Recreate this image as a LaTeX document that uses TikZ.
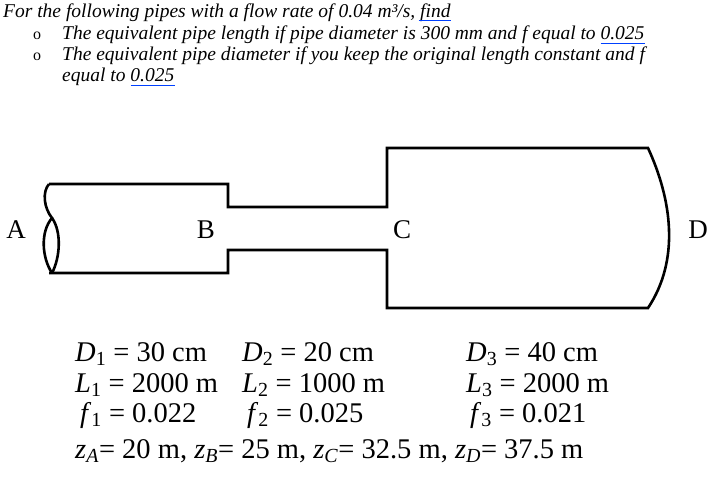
\documentclass[tikz,border=0pt]{standalone}
\usepackage{fontspec}
\setmainfont{Liberation Serif}
\newcommand{\vsub}[2]{\textit{#1}\textsubscript{#2}}
\begin{document}
\begin{tikzpicture}[x=1pt,y=-1pt,
  pipe/.style={line width=2.6pt,line join=miter},
  top/.style={anchor=base west,font=\fontsize{19.5}{20}\selectfont\itshape,inner sep=0},
  bul/.style={anchor=base west,font=\fontsize{16}{16}\selectfont,inner sep=0},
  eq/.style={anchor=base west,font=\fontsize{28.5}{30}\selectfont,inner sep=0},
  lab/.style={font=\fontsize{27}{27}\selectfont,inner sep=0},
  ul/.style={draw=blue!75!cyan,line width=1pt}]
\useasboundingbox (0,0) rectangle (712,490);
% header text
\node[top] (t1) at (3,17) {For the following pipes with a flow rate of 0.04 m³/s, find};
\node[bul] (b1) at (33,39) {o};
\node[top] (t2) at (62,39) {The equivalent pipe length if pipe diameter is 300 mm and f equal to 0.025};
\node[bul] (b2) at (33,60) {o};
\node[top] (t3) at (62,60) {The equivalent pipe diameter if you keep the original length constant and f};
\node[top] (t4) at (62,81) {equal to 0.025};
\draw[ul] ([xshift=-32pt,yshift=-3pt]t1.base east) -- ([yshift=-3pt]t1.base east);
\draw[ul] ([xshift=-44pt,yshift=-4pt]t2.base east) -- ([yshift=-4pt]t2.base east);
\draw[ul] ([xshift=-44pt,yshift=-4pt]t4.base east) -- ([yshift=-4pt]t4.base east);
% pipe
\draw[pipe] (49,184) -- (228,184) -- (228,207) -- (387,207) -- (387,148) -- (648,148)
  .. controls (672,200) and (680,260) .. (648,308) -- (387,308) -- (387,250) -- (228,250) -- (228,273) -- (49,273);
\draw[pipe] (49,184) .. controls (42,192) and (44,208) .. (52,218) .. controls (40,232) and (42,258) .. (52,273);
\draw[pipe] (52,218) .. controls (62,232) and (60,258) .. (52,273);
% labels
\node[lab] (A) at (16,230) {A};
\node[lab] (B) at (206,230) {B};
\node[lab] (C) at (402,230) {C};
\node[lab] (D) at (698,230) {D};
% data
\node[eq] (d1) at (75,361) {\vsub{D}{1} = 30 cm};
\node[eq] (d2) at (242,361) {\vsub{D}{2} = 20 cm};
\node[eq] (d3) at (466,361) {\vsub{D}{3} = 40 cm};
\node[eq] (l1) at (75,392) {\vsub{L}{1} = 2000 m};
\node[eq] (l2) at (242,392) {\vsub{L}{2} = 1000 m};
\node[eq] (l3) at (466,392) {\vsub{L}{3} = 2000 m};
\node[eq] (f1) at (80,422) {\vsub{f}{1} = 0.022};
\node[eq] (f2) at (247,422) {\vsub{f}{2} = 0.025};
\node[eq] (f3) at (470,422) {\vsub{f}{3} = 0.021};
\node[eq] (z) at (75,458) {\vsub{z}{\textit{A}}= 20 m,\ \vsub{z}{\textit{B}}= 25 m, \vsub{z}{\textit{C}}= 32.5 m, \vsub{z}{\textit{D}}= 37.5 m};
\end{tikzpicture}
\end{document}
